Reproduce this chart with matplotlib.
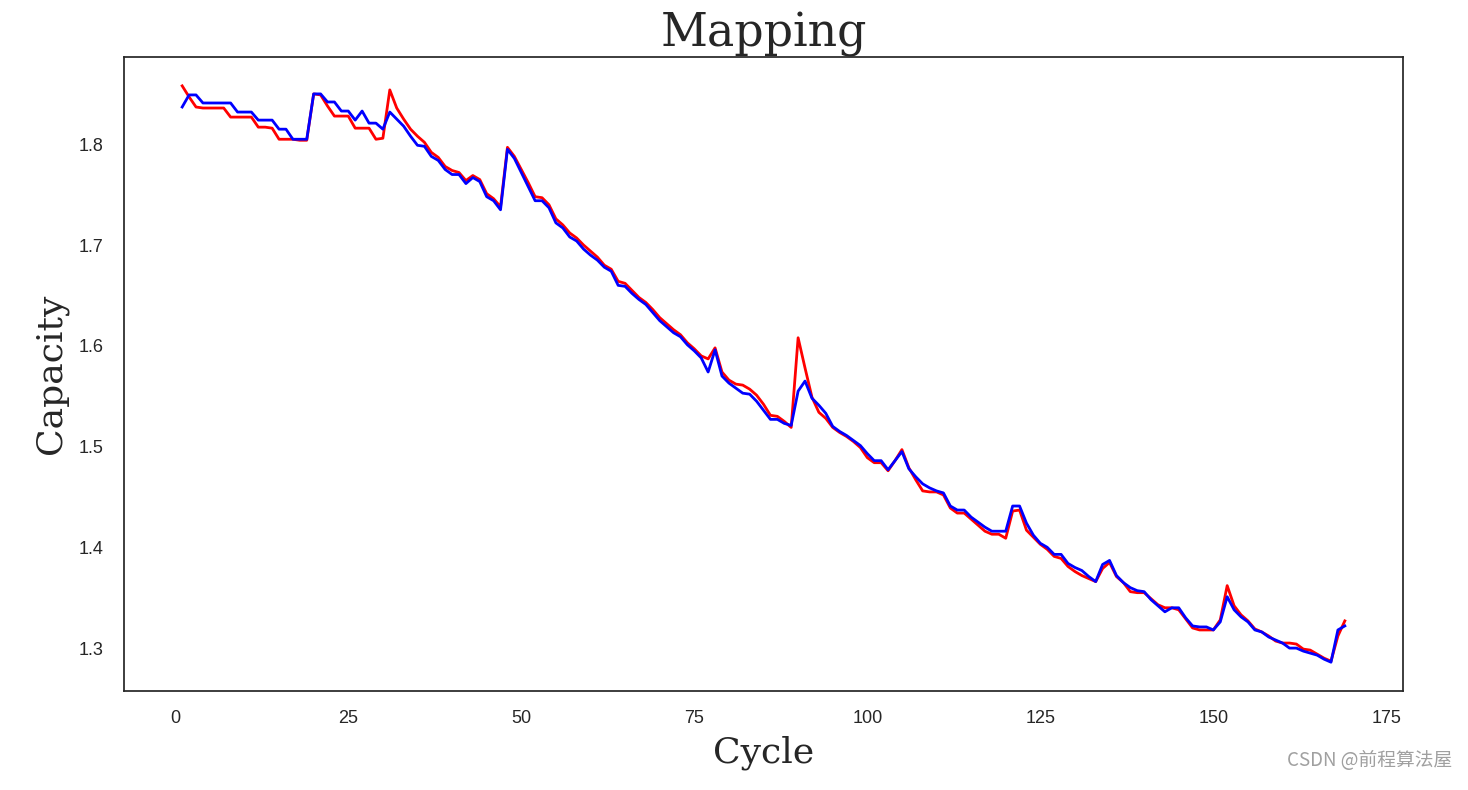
import numpy as np
import matplotlib
matplotlib.use("Agg")
import matplotlib.pyplot as plt

cycles = list(range(1, 170))

real_capacity = [
    1.858, 1.847, 1.837, 1.836, 1.836, 1.836, 1.836, 1.827, 1.827, 1.827,
    1.827, 1.817, 1.817, 1.816, 1.805, 1.805, 1.805, 1.804, 1.804, 1.850,
    1.849, 1.838, 1.828, 1.828, 1.828, 1.816, 1.816, 1.816, 1.805, 1.806,
    1.854, 1.836, 1.825, 1.815, 1.808, 1.802, 1.792, 1.787, 1.778, 1.774,
    1.772, 1.764, 1.769, 1.765, 1.751, 1.746, 1.738, 1.797, 1.788, 1.775,
    1.762, 1.748, 1.747, 1.740, 1.726, 1.720, 1.712, 1.707, 1.700, 1.694,
    1.688, 1.680, 1.676, 1.664, 1.662, 1.655, 1.648, 1.643, 1.636, 1.628,
    1.622, 1.616, 1.611, 1.603, 1.597, 1.590, 1.587, 1.598, 1.574, 1.566,
    1.562, 1.561, 1.557, 1.551, 1.542, 1.531, 1.530, 1.525, 1.519, 1.608,
    1.578, 1.549, 1.534, 1.528, 1.519, 1.514, 1.510, 1.505, 1.499, 1.489,
    1.484, 1.484, 1.476, 1.486, 1.497, 1.479, 1.467, 1.456, 1.455, 1.455,
    1.452, 1.439, 1.434, 1.434, 1.428, 1.422, 1.416, 1.413, 1.413, 1.409,
    1.436, 1.437, 1.417, 1.410, 1.403, 1.398, 1.391, 1.389, 1.381, 1.376,
    1.372, 1.369, 1.366, 1.379, 1.385, 1.371, 1.365, 1.356, 1.355, 1.355,
    1.349, 1.343, 1.340, 1.340, 1.338, 1.329, 1.320, 1.318, 1.318, 1.318,
    1.328, 1.362, 1.342, 1.333, 1.327, 1.319, 1.316, 1.312, 1.307, 1.305,
    1.305, 1.304, 1.299, 1.298, 1.294, 1.290, 1.287, 1.312, 1.327,
]

predicted_capacity = [
    1.837, 1.849, 1.849, 1.841, 1.841, 1.841, 1.841, 1.841, 1.832, 1.832,
    1.832, 1.824, 1.824, 1.824, 1.815, 1.815, 1.805, 1.805, 1.805, 1.850,
    1.850, 1.842, 1.842, 1.833, 1.833, 1.824, 1.833, 1.821, 1.821, 1.815,
    1.832, 1.825, 1.818, 1.808, 1.799, 1.798, 1.788, 1.784, 1.775, 1.770,
    1.770, 1.761, 1.767, 1.763, 1.748, 1.744, 1.735, 1.795, 1.786, 1.772,
    1.758, 1.744, 1.744, 1.737, 1.722, 1.717, 1.708, 1.704, 1.696, 1.690,
    1.685, 1.678, 1.674, 1.660, 1.659, 1.652, 1.646, 1.641, 1.633, 1.625,
    1.619, 1.613, 1.609, 1.601, 1.595, 1.588, 1.574, 1.596, 1.570, 1.563,
    1.558, 1.553, 1.552, 1.545, 1.536, 1.527, 1.527, 1.523, 1.521, 1.555,
    1.565, 1.548, 1.541, 1.533, 1.520, 1.515, 1.511, 1.506, 1.501, 1.493,
    1.486, 1.486, 1.477, 1.486, 1.495, 1.478, 1.470, 1.463, 1.459, 1.456,
    1.454, 1.441, 1.437, 1.437, 1.430, 1.425, 1.420, 1.416, 1.416, 1.416,
    1.441, 1.441, 1.424, 1.412, 1.404, 1.400, 1.393, 1.393, 1.384, 1.380,
    1.377, 1.371, 1.366, 1.383, 1.387, 1.372, 1.365, 1.360, 1.357, 1.356,
    1.348, 1.342, 1.336, 1.340, 1.340, 1.330, 1.322, 1.321, 1.321, 1.318,
    1.326, 1.351, 1.338, 1.331, 1.326, 1.318, 1.316, 1.311, 1.308, 1.305,
    1.300, 1.300, 1.297, 1.295, 1.293, 1.289, 1.286, 1.318, 1.322,
]

title_text = "Mapping"
x_label = "Cycle"
y_label = "Capacity"
watermark = "CSDN @前程算法屋"

dark = "#262626"
plt.rcParams["font.family"] = ["Liberation Sans", "DejaVu Sans"]

fig = plt.figure(figsize=(14.68, 7.90), dpi=100)
ax = fig.add_axes([0.0845, 0.1253, 0.8712, 0.8025])

ax.plot(cycles, real_capacity, color="red", linewidth=2.0)
ax.plot(cycles, predicted_capacity, color="blue", linewidth=2.0)

ax.set_xticks([0, 25, 50, 75, 100, 125, 150, 175])
ax.set_yticks([1.3, 1.4, 1.5, 1.6, 1.7, 1.8])
ax.tick_params(axis="both", length=0, labelsize=13, labelcolor=dark)
ax.tick_params(axis="x", pad=14)
ax.tick_params(axis="y", pad=15)

for s in ax.spines.values():
    s.set_color(dark)
    s.set_linewidth(1.25)

ax.set_title(title_text, family="DejaVu Serif", fontsize=33, color=dark, pad=6)
ax.set_xlabel(x_label, family="DejaVu Serif", fontsize=26, color=dark, labelpad=6)
ax.set_ylabel(y_label, family="DejaVu Serif", fontsize=26, color=dark, labelpad=7)

fig.text(0.989, 0.024, watermark, ha="right", va="bottom", fontsize=13.5,
         color="#a0a0a0", family=["Noto Sans CJK SC", "DejaVu Sans"])

fig.savefig("out.png", dpi=100, facecolor="white")
